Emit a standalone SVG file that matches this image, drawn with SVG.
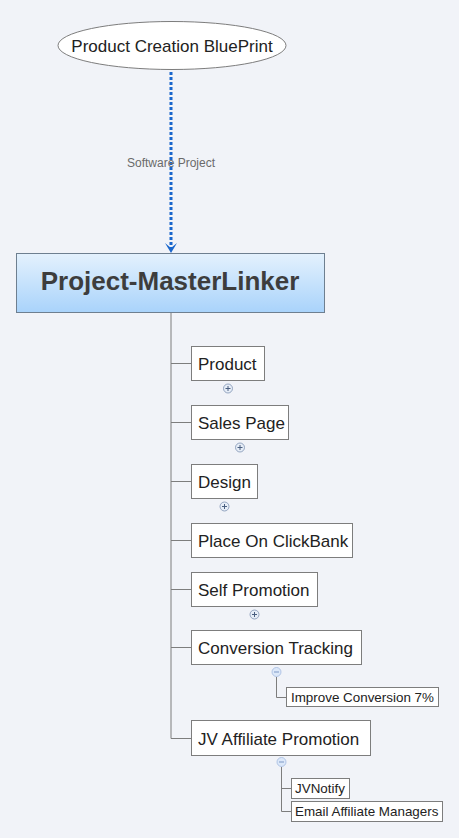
<svg xmlns="http://www.w3.org/2000/svg" width="459" height="838" viewBox="0 0 459 838">
<defs>
<linearGradient id="mainGrad" x1="0" y1="0" x2="0" y2="1">
<stop offset="0" stop-color="#e4f1fd"/>
<stop offset="1" stop-color="#a9d3fb"/>
</linearGradient>
<marker id="arrow" viewBox="0 0 10 12" refX="6" refY="6" markerWidth="10" markerHeight="12" markerUnits="userSpaceOnUse" orient="auto">
<path d="M0,0 L5,6 L0,12 L10,6 Z" fill="#1a66cc"/>
</marker>
</defs>
<style>
.bg{fill:#f1f3f8}
.node rect{fill:#ffffff;stroke:#7d7d7d;stroke-width:1}
.t{font-family:"Liberation Sans",Arial,sans-serif;fill:#222222}
.t17{font-size:17px}
.t13{font-size:13.4px}
.conn{fill:none;stroke:#7d7d7d;stroke-width:1}
.plus circle{fill:#e6edf7;stroke:#7f93b3;stroke-width:0.8}
.plus path{stroke:#4a5f80;stroke-width:1}
.minus circle{fill:#dce8f9;stroke:#a3badf;stroke-width:0.8}
.minus path{stroke:#7f99c6;stroke-width:1}
</style>
<rect class="bg" x="0" y="0" width="459" height="838"/>

<g id="connectors">
<path d="M171,72 L171,249" fill="none" stroke="#1a66cc" stroke-width="3" stroke-dasharray="3 2" marker-end="url(#arrow)"/>
<text x="171" y="167" font-family="'Liberation Sans',Arial,sans-serif" font-size="12" fill="#6a6a6a" text-anchor="middle">Software Project</text>
<path class="conn" d="M171,312 L171,738.5 L191,738.5"/>
<path class="conn" d="M171,363.5 L191,363.5"/>
<path class="conn" d="M171,422.5 L191,422.5"/>
<path class="conn" d="M171,481.5 L191,481.5"/>
<path class="conn" d="M171,540.5 L191,540.5"/>
<path class="conn" d="M171,589.5 L191,589.5"/>
<path class="conn" d="M171,647.5 L191,647.5"/>
<path class="conn" d="M276.5,677 L276.5,697.5 L286,697.5"/>
<path class="conn" d="M281.5,767 L281.5,811.5 L291,811.5 M281.5,788.5 L291,788.5"/>
</g>

<g id="node-blueprint">
<ellipse cx="172" cy="45.5" rx="114" ry="24" fill="#ffffff" stroke="#7d7d7d" stroke-width="1"/>
<text class="t t17" x="172" y="51.5" text-anchor="middle">Product Creation BluePrint</text>
</g>

<g id="node-main">
<rect x="16.5" y="253.5" width="308" height="59" fill="url(#mainGrad)" stroke="#6e7f90" stroke-width="1"/>
<text x="170" y="290" text-anchor="middle" font-family="'Liberation Sans',Arial,sans-serif" font-weight="bold" font-size="26" fill="#3d3d3d">Project-MasterLinker</text>
</g>

<g id="node-product" class="node">
<rect x="191.5" y="346.5" width="73" height="34"/>
<text class="t t17" x="198" y="370">Product</text>
</g>
<g class="plus"><circle cx="228" cy="388.5" r="4.5"/><path d="M225.5,388.5 H230.5 M228,386 V391"/></g>

<g id="node-sales" class="node">
<rect x="191.5" y="405.5" width="97" height="34"/>
<text class="t t17" x="198" y="429">Sales Page</text>
</g>
<g class="plus"><circle cx="240" cy="447.5" r="4.5"/><path d="M237.5,447.5 H242.5 M240,445 V450"/></g>

<g id="node-design" class="node">
<rect x="191.5" y="464.5" width="66" height="34"/>
<text class="t t17" x="198" y="488">Design</text>
</g>
<g class="plus"><circle cx="224.5" cy="506.5" r="4.5"/><path d="M222,506.5 H227 M224.5,504 V509"/></g>

<g id="node-clickbank" class="node">
<rect x="191.5" y="523.5" width="161" height="34"/>
<text class="t t17" x="198" y="547">Place On ClickBank</text>
</g>

<g id="node-self" class="node">
<rect x="191.5" y="572.5" width="126" height="34"/>
<text class="t t17" x="198" y="596">Self Promotion</text>
</g>
<g class="plus"><circle cx="254.5" cy="614.5" r="4.5"/><path d="M252,614.5 H257 M254.5,612 V617"/></g>

<g id="node-conversion" class="node">
<rect x="191.5" y="630.5" width="170" height="34"/>
<text class="t t17" x="198" y="654">Conversion Tracking</text>
</g>
<g class="minus"><circle cx="276.5" cy="672" r="4.5"/><path d="M274,672 H279"/></g>

<g id="node-improve" class="node">
<rect x="286.5" y="687.5" width="152" height="19"/>
<text class="t t13" x="291" y="702">Improve Conversion 7%</text>
</g>

<g id="node-jv" class="node">
<rect x="191.5" y="720.5" width="179" height="35"/>
<text class="t t17" x="198" y="744.5">JV Affiliate Promotion</text>
</g>
<g class="minus"><circle cx="281.5" cy="762" r="4.5"/><path d="M279,762 H284"/></g>

<g id="node-jvnotify" class="node">
<rect x="291.5" y="778.5" width="58" height="20"/>
<text class="t t13" x="295" y="793">JVNotify</text>
</g>

<g id="node-email" class="node">
<rect x="291.5" y="801.5" width="151" height="20"/>
<text class="t t13" x="295" y="816">Email Affiliate Managers</text>
</g>
</svg>
